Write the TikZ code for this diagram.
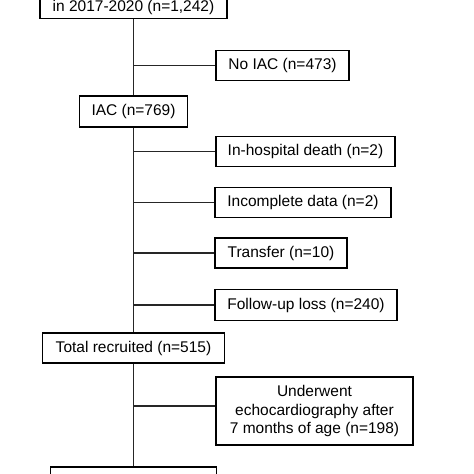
\documentclass[tikz,border=0pt]{standalone}
\usepackage{fontspec}
\setmainfont{Liberation Sans}
\begin{document}
\begin{tikzpicture}[x=1pt,y=-1pt,
  box/.style={draw=black,line width=1.2pt,rectangle,inner sep=0pt,align=center,
    font=\fontsize{15.5}{18.5}\selectfont},
  conn/.style={draw=black!85,line width=1.2pt}]
\useasboundingbox (0,0) rectangle (474,474);
\clip (0,0) rectangle (474,474);
\fill[white] (0,0) rectangle (474,474);
\node[box,minimum width=187pt,text height=35pt,text depth=6.5pt,anchor=south] (top) at (133.5,19) {in 2017-2020 (n=1,242)};
\node[box,minimum width=133pt,minimum height=30pt] (noiac) at (282.5,65.5) {No IAC (n=473)};
\node[box,minimum width=108pt,minimum height=31pt] (iac) at (133.5,111.5) {IAC (n=769)};
\node[box,minimum width=179pt,minimum height=30pt] (death) at (305.5,151.5) {In-hospital death (n=2)};
\node[box,minimum width=176pt,minimum height=30pt] (incomplete) at (303,202.5) {Incomplete data (n=2)};
\node[box,minimum width=132pt,minimum height=30pt] (transfer) at (281,253) {Transfer (n=10)};
\node[box,minimum width=182pt,minimum height=31pt] (followup) at (306,305) {Follow-up loss (n=240)};
\node[box,minimum width=182pt,minimum height=30pt] (total) at (133.5,348) {Total recruited (n=515)};
\node[box,minimum width=197pt,minimum height=68pt] (echo) at (314.5,411) {Underwent\\echocardiography after\\7 months of age (n=198)};
\node[box,minimum width=166pt,minimum height=46pt] (bottom) at (133.5,490) {};
\draw[conn] (top.south) -- (iac.north);
\draw[conn] (iac.south) -- (total.north);
\draw[conn] (total.south) -- (bottom.north);
\draw[conn] (noiac.west) -- (noiac.west -| top.south);
\draw[conn] (death.west) -- (death.west -| iac.south);
\draw[conn] (incomplete.west) -- (incomplete.west -| iac.south);
\draw[conn] (transfer.west) -- (transfer.west -| iac.south);
\draw[conn] (followup.west) -- (followup.west -| iac.south);
\draw[conn] ([yshift=5pt]echo.west) -- ([yshift=5pt]echo.west -| total.south);
\end{tikzpicture}
\end{document}
